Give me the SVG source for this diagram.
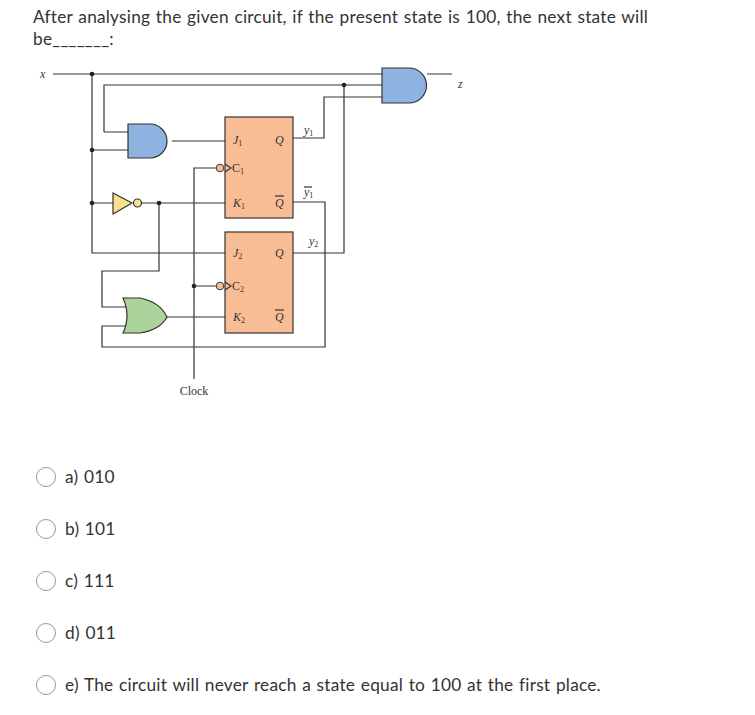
<svg xmlns="http://www.w3.org/2000/svg" width="755" height="715" viewBox="0 0 755 715">
<style>
.t{font-family:Lato,"Liberation Sans",sans-serif;font-size:17.3px;letter-spacing:0.22px;word-spacing:1px;fill:#333}
.w{fill:none;stroke:#333;stroke-width:1.2}
.s{font-family:"Liberation Serif",serif;font-style:italic;font-size:12px;fill:#333}
.r{font-family:"Liberation Serif",serif;font-size:12px;fill:#333}
.ff{fill:#f9bd96;stroke:#333;stroke-width:1.2}
.and{fill:#8fb3e0;stroke:#333;stroke-width:1.2}
.rad{fill:#fff;stroke:#999;stroke-width:1}
</style>
<rect width="755" height="715" fill="#fff"/>
<text class="t" x="33" y="23">After analysing the given circuit, if the present state is 100, the next state will</text>
<text class="t" x="33" y="45">be_______:</text>
<g id="connectors">
<path class="w" d="M53 74H382M92 74V253H225M104 132V85H382M104 132H128M92 150H128M172 141H225M293 138H324V97H382M92 203H113M142 203H225M159 203V271H102V307H128M293 253H344V85M194 379V168H216M194 286H216M167 317H225M293 202H325V347H102V326H128M427 74H452"/>
<g fill="#222"><circle cx="92" cy="74" r="2.3"/><circle cx="344" cy="85" r="2.3"/><circle cx="92" cy="150" r="2.3"/><circle cx="92" cy="203" r="2.3"/><circle cx="159" cy="203" r="2.3"/><circle cx="194" cy="286" r="2.3"/></g>
</g>
<g id="ff1"><rect class="ff" x="225" y="117" width="68" height="101"/>
<circle cx="220" cy="168" r="3.8" fill="#f9bd96" stroke="#333"/><path class="w" d="M225 164L231 168L225 172"/>
<text class="s" x="233" y="144">J<tspan font-size="8" font-style="normal" dy="2">1</tspan></text>
<text class="s" x="275" y="144">Q</text>
<text class="r" x="232" y="172">C<tspan font-size="8" dy="2">1</tspan></text>
<text class="s" x="233" y="207">K<tspan font-size="8" font-style="normal" dy="2">1</tspan></text>
<text class="s" x="275" y="207">Q</text><path class="w" d="M275 196H284" stroke-width="0.8"/></g>
<g id="ff2"><rect class="ff" x="225" y="232" width="68" height="101"/>
<circle cx="220" cy="286" r="3.8" fill="#f9bd96" stroke="#333"/><path class="w" d="M225 282L231 286L225 290"/>
<text class="s" x="233" y="257">J<tspan font-size="8" font-style="normal" dy="2">2</tspan></text>
<text class="s" x="275" y="257">Q</text>
<text class="r" x="232" y="290">C<tspan font-size="8" dy="2">2</tspan></text>
<text class="s" x="233" y="321">K<tspan font-size="8" font-style="normal" dy="2">2</tspan></text>
<text class="s" x="275" y="321">Q</text><path class="w" d="M275 310H284" stroke-width="0.8"/></g>
<g id="labels">
<text class="s" x="304" y="134">y<tspan font-size="8" font-style="normal" dy="2">1</tspan></text>
<text class="s" x="304" y="196">y<tspan font-size="8" font-style="normal" dy="2">1</tspan></text><path class="w" d="M304 187H312" stroke-width="0.7"/>
<text class="s" x="309" y="245">y<tspan font-size="8" font-style="normal" dy="2">2</tspan></text>
<text class="s" x="40" y="78">x</text>
<text class="s" x="458" y="88">z</text>
<text class="r" x="194" y="395" text-anchor="middle" font-size="13">Clock</text>
</g>
<g id="and1"><path class="and" d="M128 124H150A17 17 0 0 1 150 158H128Z"/></g>
<g id="and2"><path class="and" d="M382 68H409A17.5 17.5 0 0 1 409 103H382Z"/></g>
<g id="not"><path d="M113 193L132 203L113 214Z" fill="#fbe08f" stroke="#333" stroke-width="1.2"/><circle cx="137.5" cy="203" r="4" fill="#fbe08f" stroke="#333" stroke-width="1.2"/></g>
<g id="or"><path d="M123 298H140Q160 302 167 317Q160 330 140 333H123Q131 316 123 298Z" fill="#acd39a" stroke="#333" stroke-width="1.2"/></g>
<g id="options">
<circle class="rad" cx="46" cy="477" r="9.5"/><text class="t" x="65" y="483">a) 010</text>
<circle class="rad" cx="46" cy="529" r="9.5"/><text class="t" x="65" y="535">b) 101</text>
<circle class="rad" cx="46" cy="581" r="9.5"/><text class="t" x="65" y="587">c) 111</text>
<circle class="rad" cx="46" cy="633" r="9.5"/><text class="t" x="65" y="639">d) 011</text>
<circle class="rad" cx="46" cy="685" r="9.5"/><text class="t" x="65" y="691">e) The circuit  will never reach a state equal to 100 at the first place.</text>
</g>
</svg>
